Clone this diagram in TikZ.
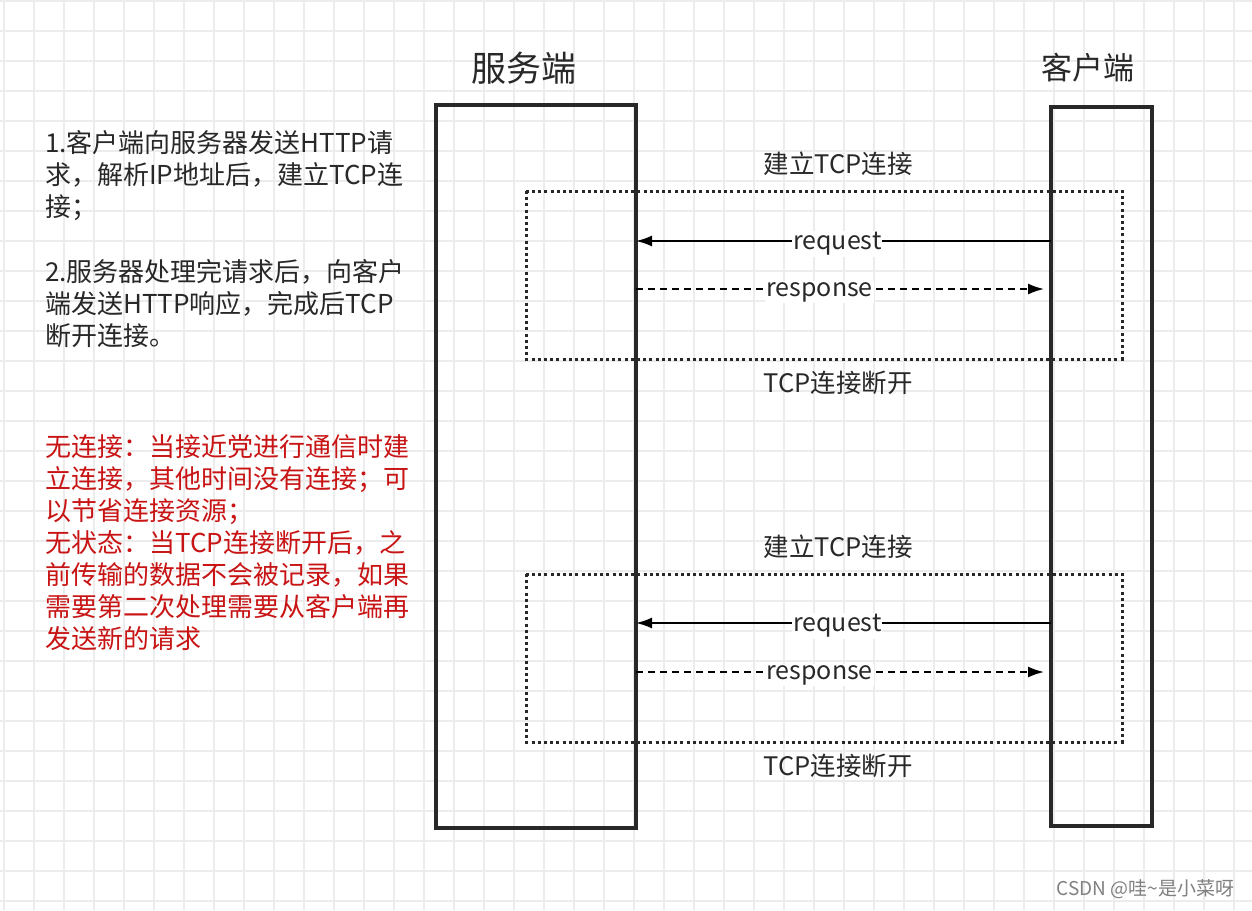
\documentclass[tikz,border=0pt]{standalone}
\usepackage{fontspec}
\setmainfont{Noto Sans CJK SC}
\usetikzlibrary{arrows.meta}
\definecolor{gridc}{RGB}{236,236,236}
\definecolor{redt}{RGB}{200,20,20}
\definecolor{txt}{RGB}{40,40,40}
\tikzset{
  lifebox/.style={draw=txt,line width=3.2pt},
  dotbox/.style={draw=txt,line width=3pt,dash pattern=on 3pt off 3.2pt},
  msg/.style={draw=black,line width=1.8pt,-{Latex[length=16pt,width=11pt]}},
  lbl/.style={font=\fontsize{25.5}{28}\selectfont,text=txt,inner sep=1pt},
  lbllabel/.style={font=\fontsize{25}{28}\selectfont,text=txt,fill=white,inner sep=1pt,yshift=-3pt},
  para/.style={font=\fontsize{26}{32}\selectfont,align=left,anchor=north west,inner sep=0pt},
}
\begin{document}
\begin{tikzpicture}[x=1pt,y=-1pt]
\useasboundingbox (0,0) rectangle (1252,910);
\fill[white] (0,0) rectangle (1252,910);
\foreach \i in {4,34,...,1252} \draw[gridc,line width=2pt] (\i,0) -- (\i,910);
\foreach \j in {1,31,...,910} \draw[gridc,line width=2pt] (0,\j) -- (1252,\j);

\node[font=\fontsize{35}{40}\selectfont,text=txt] (st) at (524,68) {服务端};
\node[font=\fontsize{31}{36}\selectfont,text=txt] (ct) at (1088,68) {客户端};
\draw[lifebox] (436,105) rectangle (636,828);
\draw[lifebox] (1051,107) rectangle (1152,826);

\foreach \t/\r/\s/\b/\e in {191/241/289/164/383, 574/623/672/547/766}{
  \draw[dotbox] (526,\t) rectangle (1122,\t+168);
  \node[lbl] at (838,\b) {建立TCP连接};
  \node[lbl] at (838,\e) {TCP连接断开};
  \coordinate (ra) at (1051,\r);
  \coordinate (rb) at (636,\r);
  \coordinate (sa) at (636,\s);
  \coordinate (sb) at (1044,\s);
  \draw[msg] (ra) -- node[lbllabel,pos=0.515]{request} (rb);
  \draw[msg,dashed,dash pattern=on 7pt off 5pt] (sa) -- node[lbllabel,pos=0.45]{response} (sb);
}

\node[para,text=txt] (p1) at (45,130) {1.客户端向服务器发送HTTP请\\求，解析IP地址后，建立TCP连\\接；};
\node[para,text=txt] (p2) at (45,259) {2.服务器处理完请求后，向客户\\端发送HTTP响应，完成后TCP\\断开连接。};
\node[para,text=redt] (p3) at (45,434) {无连接：当接近党进行通信时建\\立连接，其他时间没有连接；可\\以节省连接资源；\\无状态：当TCP连接断开后，之\\前传输的数据不会被记录，如果\\需要第二次处理需要从客户端再\\发送新的请求};
\node[font=\fontsize{19}{22}\selectfont,text=gray,anchor=east] (wm) at (1238,889) {CSDN @哇\textasciitilde 是小菜呀};
\end{tikzpicture}
\end{document}
